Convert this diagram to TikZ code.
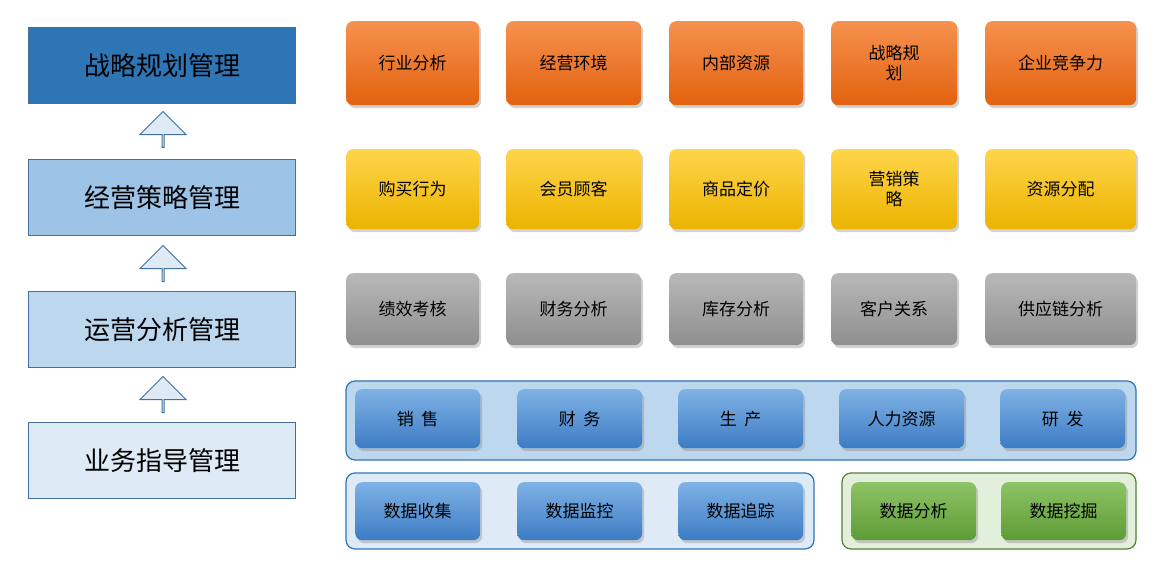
\documentclass[tikz,border=0pt]{standalone}
\usepackage{fontspec}
\newfontfamily\cjk{Noto Sans CJK SC}
\usetikzlibrary{shadows,shapes.arrows}
\definecolor{bd}{HTML}{41719C}
\definecolor{org1}{HTML}{F6914E}\definecolor{org2}{HTML}{E2620F}
\definecolor{yel1}{HTML}{FFD54A}\definecolor{yel2}{HTML}{EBB300}
\definecolor{gry1}{HTML}{B8B8B8}\definecolor{gry2}{HTML}{8F8F8F}
\definecolor{blu1}{HTML}{7FB2E5}\definecolor{blu2}{HTML}{3D7CC4}
\definecolor{grn1}{HTML}{8DC466}\definecolor{grn2}{HTML}{5E9B36}
\tikzset{
 lvl/.style={draw=bd,line width=1.2pt,font=\cjk\fontsize{26}{30}\selectfont,anchor=north west,inner sep=0pt},
 btn/.style={rounded corners=7pt,font=\cjk\fontsize{17}{20}\selectfont,anchor=north west,inner sep=0pt,align=center,drop shadow={shadow xshift=2pt,shadow yshift=-3pt,opacity=.35}},
 orb/.style={btn,top color=org1,bottom color=org2},
 yeb/.style={btn,top color=yel1,bottom color=yel2},
 grb/.style={btn,top color=gry1,bottom color=gry2},
 blb/.style={btn,top color=blu1,bottom color=blu2},
 gnb/.style={btn,top color=grn1,bottom color=grn2},
 uparr/.style={single arrow,shape border rotate=90,draw=bd,fill={rgb,255:red,222;green,235;blue,247},line width=1pt,minimum width=46pt,single arrow head extend=11pt,minimum height=36pt,inner sep=0pt,single arrow tip angle=90,anchor=center}
}
\begin{document}
\begin{tikzpicture}[x=1pt,y=-1pt]
\useasboundingbox[fill=white] (0,0) rectangle (1171,575);
\node[lvl,fill={rgb,255:red,46;green,117;blue,182},minimum width=267pt,minimum height=76pt] (l1) at (28,27) {战略规划管理};
\node[lvl,fill={rgb,255:red,157;green,195;blue,230},minimum width=267pt,minimum height=76pt] (l2) at (28,159) {经营策略管理};
\node[lvl,fill={rgb,255:red,189;green,215;blue,238},minimum width=267pt,minimum height=76pt] (l3) at (28,291) {运营分析管理};
\node[lvl,fill={rgb,255:red,222;green,235;blue,247},minimum width=267pt,minimum height=76pt] (l4) at (28,422) {业务指导管理};
\node[uparr] (a1) at (163,130) {};
\node[uparr] (a2) at (163,264) {};
\node[uparr] (a3) at (163,395) {};
% row 1
\foreach \x/\w/\t [count=\i] in {346/133/行业分析,506/135/经营环境,669/134/内部资源,831/126/{战略规\\划},985/151/企业竞争力}
  \node[orb,minimum width=\w pt,minimum height=84pt] (o\i) at (\x,21) {\t};
\foreach \x/\w/\t [count=\i] in {346/133/购买行为,506/135/会员顾客,669/134/商品定价,831/126/{营销策\\略},985/151/资源分配}
  \node[yeb,minimum width=\w pt,minimum height=80pt] (y\i) at (\x,149) {\t};
\foreach \x/\w/\t [count=\i] in {346/133/绩效考核,506/135/财务分析,669/134/库存分析,831/126/客户关系,985/151/供应链分析}
  \node[grb,minimum width=\w pt,minimum height=72pt] (g\i) at (\x,273) {\t};
% containers
\draw[rounded corners=9pt,draw={rgb,255:red,46;green,117;blue,182},line width=1.2pt,fill={rgb,255:red,189;green,215;blue,238}] (346,381) rectangle (1136,460);
\draw[rounded corners=9pt,draw={rgb,255:red,46;green,117;blue,182},line width=1.2pt,fill={rgb,255:red,222;green,235;blue,247}] (346,473) rectangle (814,549);
\draw[rounded corners=9pt,draw={rgb,255:red,84;green,130;blue,53},line width=1.2pt,fill={rgb,255:red,226;green,239;blue,218}] (842,473) rectangle (1136,549);
\foreach \x/\t [count=\i] in {355/销\ \ 售,517/财\ \ 务,678/生\ \ 产,839/人力资源,1000/研\ \ 发}
  \node[blb,minimum width=125pt,minimum height=59pt] (b\i) at (\x,389) {\t};
\foreach \x/\t [count=\i] in {355/数据收集,517/数据监控,678/数据追踪}
  \node[blb,minimum width=125pt,minimum height=58pt] (d\i) at (\x,482) {\t};
\foreach \x/\t [count=\i] in {851/数据分析,1001/数据挖掘}
  \node[gnb,minimum width=125pt,minimum height=58pt] (m\i) at (\x,482) {\t};
\end{tikzpicture}
\end{document}
